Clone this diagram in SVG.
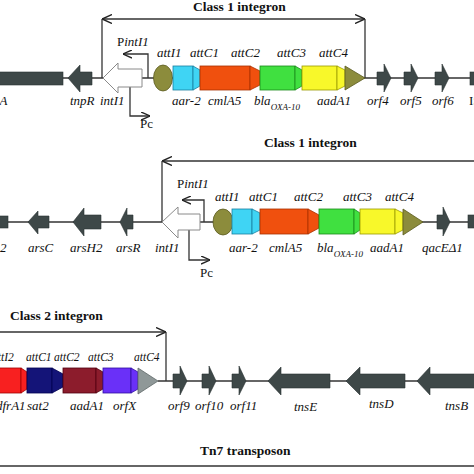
<svg xmlns="http://www.w3.org/2000/svg" width="474" height="474" viewBox="0 0 474 474">
<style>
.g{font-family:"Liberation Serif","Times New Roman",serif;font-style:italic;font-size:13px;fill:#111}
.r{font-family:"Liberation Serif","Times New Roman",serif;font-style:normal;font-size:13px;fill:#111}
.sm{font-size:11.5px}
.sub{font-size:9px}
.t{font-family:"Liberation Serif","Times New Roman",serif;font-weight:bold;font-size:13.5px;fill:#111}
.ln{stroke:#333;stroke-width:1.3;fill:none}
.dk{fill:#3e4848;stroke:#2a3232;stroke-width:0.6}
.cy{fill:#3fd4f4;stroke:#1a7fa0;stroke-width:0.8}
.or{fill:#f0500e;stroke:#a83000;stroke-width:0.8}
.gr{fill:#40e040;stroke:#1a8a1a;stroke-width:0.8}
.ye{fill:#f8f82a;stroke:#9a9a00;stroke-width:0.8}
.ol{fill:#8c8c3c;stroke:#5a5a20;stroke-width:0.8}
.rd{fill:#f82020;stroke:#a00000;stroke-width:0.8}
.nv{fill:#141478;stroke:#000050;stroke-width:0.8}
.mr{fill:#8c1c2c;stroke:#500010;stroke-width:0.8}
.pu{fill:#6a30f8;stroke:#3010a0;stroke-width:0.8}
.gy{fill:#8f9898;stroke:#606868;stroke-width:0.8}
.wh{fill:#fff;stroke:#8a8a8a;stroke-width:1}
</style>
<defs>
<marker id="chev" viewBox="0 0 10 10" refX="10" refY="5" markerWidth="10" markerHeight="10" markerUnits="userSpaceOnUse" orient="auto-start-reverse">
<path d="M0,0.5 L10,5 L0,9.5" fill="none" stroke="#222" stroke-width="1.4"/>
</marker>
<marker id="pchev" viewBox="0 0 10 10" refX="10" refY="5" markerWidth="9" markerHeight="9" markerUnits="userSpaceOnUse" orient="auto">
<path d="M0,0.5 L10,5 L0,9.5" fill="none" stroke="#222" stroke-width="1.5"/>
</marker>
</defs>
<rect width="474" height="474" fill="#fff"/>

<g id="connectors">
<line class="ln" x1="0" y1="78" x2="474" y2="78"/>
<line class="ln" x1="0" y1="222" x2="474" y2="222"/>
<line class="ln" x1="158" y1="381" x2="474" y2="381"/>
<line class="ln" x1="102" y1="19" x2="365" y2="19" marker-start="url(#chev)" marker-end="url(#chev)"/>
<line class="ln" x1="102" y1="19" x2="102" y2="78"/>
<line class="ln" x1="365" y1="19" x2="365" y2="78"/>
<line class="ln" x1="162" y1="161" x2="476" y2="161" marker-start="url(#chev)"/>
<line class="ln" x1="162" y1="161" x2="162" y2="222"/>
<line class="ln" x1="-2" y1="332" x2="166" y2="332" marker-end="url(#chev)"/>
<line class="ln" x1="166" y1="332" x2="166" y2="381"/>
<path class="ln" d="M148,78 V54 H123" marker-end="url(#pchev)"/>
<path class="ln" d="M130,87 V116 H150" marker-end="url(#pchev)"/>
<path class="ln" d="M204,222 V200 H182" marker-end="url(#pchev)"/>
<path class="ln" d="M189,230 V260 H210" marker-end="url(#pchev)"/>
<line x1="0" y1="466" x2="474" y2="466" stroke="#333" stroke-width="1.5"/>
</g>

<g id="tnpA"><rect class="dk" x="-2" y="72" width="65" height="13"/><text class="g" x="-17" y="105">tnpA</text></g>
<g id="tnpR"><polygon class="dk" points="68,78 80,65 80,72 92,72 92,85 80,85 80,92"/><text class="g" x="70" y="105">tnpR</text></g>
<g id="intI1-a"><polygon class="wh" points="103,78 118,63 118,69 142,69 142,87 118,87 118,93"/><text class="g" x="100" y="105">intI1</text></g>
<g id="PintI1-a"><text class="r" x="117" y="46">P<tspan class="g">intI1</tspan></text></g>
<g id="Pc-a"><text class="r" x="140" y="128">Pc</text></g>
<g id="attI1-a"><ellipse class="ol" cx="163" cy="78" rx="9.5" ry="13"/><text class="g" x="157" y="57">attI1</text></g>
<g id="aar2-a"><rect class="cy" x="173" y="66" width="20" height="24"/><polygon class="cy" points="193,66 200,70 200,86 193,90"/><text class="g" x="172" y="105">aar-2</text><text class="g" x="190" y="57">attC1</text></g>
<g id="cmlA5-a"><rect class="or" x="200" y="66" width="50" height="24"/><polygon class="or" points="250,66 260,71 260,85 250,90"/><text class="g" x="208" y="105">cmlA5</text><text class="g" x="231" y="57">attC2</text></g>
<g id="bla-a"><rect class="gr" x="260" y="66" width="35" height="24"/><polygon class="gr" points="295,66 302,70 302,86 295,90"/><text class="g" x="254" y="105">bla<tspan class="sub" dy="5">OXA-10</tspan></text><text class="g" x="277" y="57">attC3</text></g>
<g id="aadA1-a"><rect class="ye" x="302" y="66" width="35" height="24"/><polygon class="ye" points="337,66 345,70 345,86 337,90"/><text class="g" x="317" y="105">aadA1</text><text class="g" x="319" y="57">attC4</text></g>
<g id="attC4-a"><polygon class="ol" points="345,66 365,78 345,90"/></g>
<g id="orf4"><polygon class="dk" points="377,72 384,72 384,64 391,78 384,92 384,85 377,85"/><text class="g" x="367" y="105">orf4</text></g>
<g id="orf5"><polygon class="dk" points="404,72 411,72 411,64 418,78 411,92 411,85 404,85"/><text class="g" x="400" y="105">orf5</text></g>
<g id="orf6"><polygon class="dk" points="435,72 442,72 442,64 449,78 442,92 442,85 435,85"/><text class="g" x="432" y="105">orf6</text></g>
<g id="IS"><rect class="dk" x="470" y="72" width="6" height="13"/><text class="r" x="469" y="105">IS</text></g>
<g id="title1"><text class="t" x="193" y="11">Class 1 integron</text></g>

<g id="title2"><text class="t" x="264" y="147">Class 1 integron</text></g>
<g id="gene2"><rect class="dk" x="-2" y="216" width="10" height="12"/><text class="g" x="0" y="252">2</text></g>
<g id="arsC"><polygon class="dk" points="28,222 38,211 38,216 49,216 49,228 38,228 38,234"/><text class="g" x="28" y="252">arsC</text></g>
<g id="arsH2"><polygon class="dk" points="73,222 84,208 84,215 101,215 101,229 84,229 84,236"/><text class="g" x="70" y="252">arsH2</text></g>
<g id="arsR"><polygon class="dk" points="120,222 127,208 127,215 133,215 133,229 127,229 127,236"/><text class="g" x="116" y="252">arsR</text></g>
<g id="intI1-b"><polygon class="wh" points="162,222 178,207 178,214 200,214 200,230 178,230 178,238"/><text class="g" x="155" y="252">intI1</text></g>
<g id="PintI1-b"><text class="r" x="177" y="188">P<tspan class="g">intI1</tspan></text></g>
<g id="Pc-b"><text class="r" x="200" y="277">Pc</text></g>
<g id="attI1-b"><ellipse class="ol" cx="223" cy="222" rx="10" ry="13"/><text class="g" x="215" y="201">attI1</text></g>
<g id="aar2-b"><rect class="cy" x="232" y="209" width="20" height="25"/><polygon class="cy" points="252,209 260,213 260,230 252,234"/><text class="g" x="229" y="252">aar-2</text><text class="g" x="249" y="201">attC1</text></g>
<g id="cmlA5-b"><rect class="or" x="260" y="209" width="48" height="25"/><polygon class="or" points="308,209 319,215 319,228 308,234"/><text class="g" x="269" y="252">cmlA5</text><text class="g" x="294" y="201">attC2</text></g>
<g id="bla-b"><rect class="gr" x="319" y="209" width="35" height="25"/><polygon class="gr" points="354,209 360,213 360,230 354,234"/><text class="g" x="317" y="252">bla<tspan class="sub" dy="5">OXA-10</tspan></text><text class="g" x="343" y="201">attC3</text></g>
<g id="aadA1-b"><rect class="ye" x="360" y="209" width="35" height="25"/><polygon class="ye" points="395,209 403,213 403,230 395,234"/><text class="g" x="370" y="252">aadA1</text><text class="g" x="385" y="201">attC4</text></g>
<g id="attC4-b"><polygon class="ol" points="403,209 423,222 403,235"/></g>
<g id="qacE"><polygon class="dk" points="437,215 443,215 443,207 450,222 443,236 443,229 437,229"/><text class="g" x="422" y="252">qacEΔ1</text></g>
<g id="gene-r"><rect class="dk" x="468" y="215" width="8" height="13"/></g>

<g id="title3"><text class="t" x="10" y="320">Class 2 integron</text></g>
<g id="dfrA1"><rect class="rd" x="-2" y="368" width="23" height="25"/><polygon class="rd" points="21,368 27,372 27,389 21,393"/><text class="g" x="-4" y="410">dfrA1</text><text class="g sm" x="-8" y="361">attI2</text></g>
<g id="sat2"><rect class="nv" x="27" y="368" width="25" height="25"/><polygon class="nv" points="52,368 63,374 63,387 52,393"/><text class="g" x="27" y="410">sat2</text><text class="g sm" x="26" y="361">attC1</text></g>
<g id="aadA1-c"><rect class="mr" x="63" y="368" width="33" height="25"/><polygon class="mr" points="96,368 103,372 103,389 96,393"/><text class="g" x="70" y="410">aadA1</text><text class="g sm" x="54" y="361">attC2</text></g>
<g id="orfX"><rect class="pu" x="103" y="368" width="28" height="25"/><polygon class="pu" points="131,368 138,372 138,389 131,393"/><text class="g" x="113" y="410">orfX</text><text class="g sm" x="88" y="361">attC3</text></g>
<g id="attC4-c"><polygon class="gy" points="138,368 158,381 138,394"/><text class="g sm" x="134" y="361">attC4</text></g>
<g id="orf9"><polygon class="dk" points="173,374 180,374 180,366 187,381 180,395 180,388 173,388"/><text class="g" x="168" y="410">orf9</text></g>
<g id="orf10"><polygon class="dk" points="202,374 209,374 209,366 216,381 209,395 209,388 202,388"/><text class="g" x="195" y="410">orf10</text></g>
<g id="orf11"><polygon class="dk" points="232,374 239,374 239,366 246,381 239,395 239,388 232,388"/><text class="g" x="230" y="410">orf11</text></g>
<g id="tnsE"><polygon class="dk" points="268,381 281,367 281,374 330,374 330,388 281,388 281,395"/><text class="g" x="294" y="411">tnsE</text></g>
<g id="tnsD"><polygon class="dk" points="346,381 360,367 360,374 405,374 405,388 360,388 360,395"/><text class="g" x="369" y="408">tnsD</text></g>
<g id="tnsB"><polygon class="dk" points="417,381 430,367 430,374 476,374 476,388 430,388 430,395"/><text class="g" x="445" y="410">tnsB</text></g>
<g id="title4"><text class="t" x="200" y="455">Tn7 transposon</text></g>
</svg>
